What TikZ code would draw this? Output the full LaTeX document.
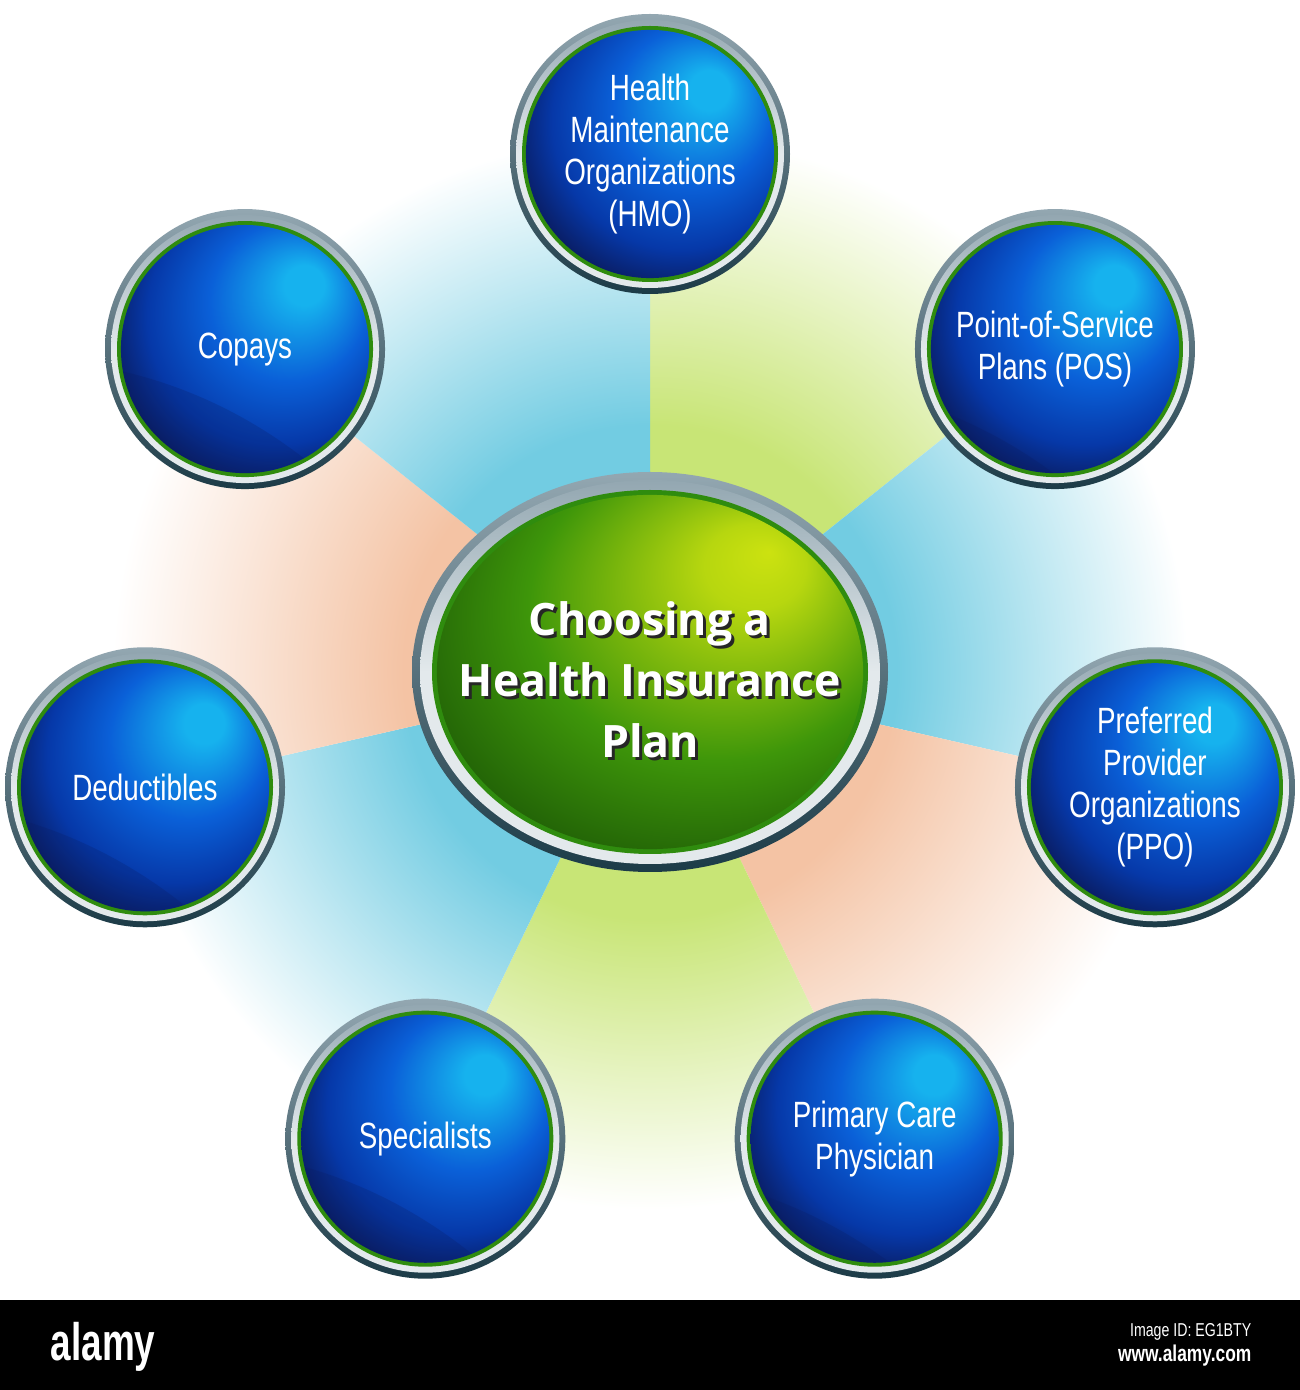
\documentclass[tikz,border=0pt]{standalone}
\usepackage{fontspec}
\setmainfont{Liberation Sans}
\newfontfamily\orbfont[FakeStretch=0.76]{Liberation Sans}
\newfontfamily\hubfont{Open Sans}
\newfontfamily\logofont[FakeStretch=0.7]{Liberation Sans}
\usetikzlibrary{calc,backgrounds,shapes.geometric}

\definecolor{wedgeblue}{HTML}{72CCE2}
\definecolor{wedgegreen}{HTML}{C8E576}
\definecolor{wedgeorange}{HTML}{F4C3A4}
\definecolor{rimtop}{HTML}{93A7B1}
\definecolor{rimbottom}{HTML}{1C3B47}
\definecolor{rimlight}{HTML}{E3E9EC}
\definecolor{rimgreen}{HTML}{2F8C0E}
\definecolor{orbcyan}{HTML}{16B2EE}
\definecolor{orbblue}{HTML}{0A60D8}
\definecolor{orbdeep}{HTML}{0638A8}
\definecolor{orbnavy}{HTML}{0A1A5C}
\definecolor{hubyellow}{HTML}{CCE210}
\definecolor{hubgreen}{HTML}{3E960A}
\definecolor{hubdark}{HTML}{1B5606}
\colorlet{wedgecol}{wedgeblue}

\pgfdeclareradialshading[wedgecol]{wedgefade}{\pgfpointorigin}{color(0bp)=(wedgecol); color(11bp)=(wedgecol); color(18bp)=(wedgecol!45!white); color(24bp)=(white); color(50bp)=(white)}
\pgfdeclareradialshading{orbshade}{\pgfqpoint{13bp}{14bp}}{color(0bp)=(orbcyan); color(4bp)=(orbcyan); color(16bp)=(orbblue); color(26bp)=(orbdeep); color(33bp)=(orbnavy); color(50bp)=(orbnavy)}
\pgfdeclareradialshading{hubshade}{\pgfqpoint{14bp}{17bp}}{color(0bp)=(hubyellow); color(6bp)=(hubyellow!85!hubgreen); color(22bp)=(hubgreen); color(36bp)=(hubdark); color(50bp)=(hubdark)}

\tikzset{
  orb/.style={circle, minimum size=2.48cm, inner sep=0pt, shade, shading=orbshade,
    text=white, align=center, font=\orbfont\fontsize{10.4}{11.9}\selectfont,
    path picture={
      \begin{scope}[shift={(path picture bounding box.center)}]
        \fill[orbnavy, opacity=.22] (-130,-4) .. controls (-40,-14) and (50,-50) .. (130,-120)
          -- (130,-140) -- (-130,-140) -- cycle;
      \end{scope}}},
  hub/.style={ellipse, minimum width=4.26cm, minimum height=3.54cm, inner sep=0pt,
    shade, shading=hubshade},
  hubtxt/.style={align=center, text=white, font=\hubfont\bfseries\fontsize{12.7}{17.3}\selectfont},
  barlabel/.style={anchor=base east, text=white, inner sep=0pt}
}

\begin{document}
\begin{tikzpicture}[x=0.01cm, y=0.01cm]
  \useasboundingbox (0,0) rectangle (1300,1390);
  \coordinate (ctr) at (650,718);

  % outer circles
  \foreach \nm/\ang/\txt in {hmo/90/{Health\\Maintenance\\Organizations\\(HMO)},
      pos/38.57/{Point-of-Service\\Plans (POS)}, ppo/-12.86/{Preferred\\Provider\\Organizations\\(PPO)},
      pcp/-64.29/{Primary Care\\Physician}, spec/-115.71/Specialists,
      deduct/-167.14/Deductibles, copay/141.43/Copays}
  {
    \coordinate (c) at ($(ctr)+(\ang:518)$);
    \shade[top color=rimtop, bottom color=rimbottom] (c) circle[radius=140];
    \shade[top color=rimtop, bottom color=rimlight, middle color=rimlight] (c) circle[radius=134];
    \fill[rimgreen] (c) circle[radius=128];
    \node[orb] (\nm) at (c) {\txt};
  }

  % centre
  \shade[top color=rimtop, bottom color=rimbottom] (ctr) ellipse[x radius=238, y radius=200];
  \shade[top color=rimtop, bottom color=rimlight, middle color=rimlight] (ctr) ellipse[x radius=230, y radius=192];
  \fill[rimgreen] (ctr) ellipse[x radius=218, y radius=182];
  \node[hub] (hub) at (ctr) {};
  \node[hubtxt, text=black!85] (hubshadow) at ($(ctr)+(3,-11)$) {Choosing a\\Health Insurance\\Plan};
  \node[hubtxt] (hubtext) at ($(ctr)+(0,-8)$) {Choosing a\\Health Insurance\\Plan};

  \begin{pgfonlayer}{background}
    \fill[white] (0,0) rectangle (1300,1390);
    \foreach \a/\b/\c in {hmo/pos/wedgegreen, pos/ppo/wedgeblue, ppo/pcp/wedgeorange,
        pcp/spec/wedgegreen, spec/deduct/wedgeblue, deduct/copay/wedgeorange, copay/hmo/wedgeblue}
    {
      \colorlet{wedgecol}{\c}
      \begin{scope}
        \clip (ctr) -- ($(ctr)!1.5!(\a)$) -- ($(ctr)!1.5!(\b)$) -- cycle;
        \shade[shading=wedgefade] (ctr) circle[radius=560];
      \end{scope}
    }
  \end{pgfonlayer}

  % footer bar
  \fill[black] (0,0) rectangle (1300,90);
  \node[anchor=base west, inner sep=0pt, text=white, font=\logofont\bfseries\fontsize{15}{15}\selectfont] (logo) at (50,30) {alamy};
  \node[barlabel, font=\orbfont\fontsize{5.3}{6}\selectfont] (imageid) at (1252,54) {Image ID: EG1BTY};
  \node[barlabel, font=\orbfont\bfseries\fontsize{6.5}{7}\selectfont] (site) at (1252,28) {www.alamy.com};
\end{tikzpicture}
\end{document}
